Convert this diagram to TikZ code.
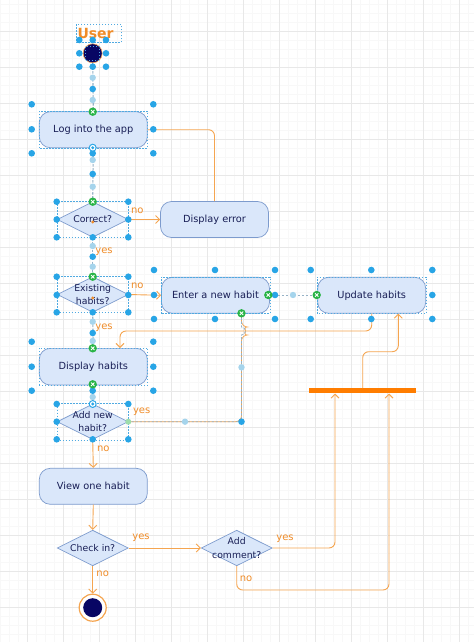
\documentclass[tikz,border=0pt]{standalone}
\usepackage{fontspec}
\newfontfamily\dv{DejaVu Sans}
\usetikzlibrary{shapes.geometric,arrows.meta,calc}
\definecolor{navy}{RGB}{8,6,100}
\definecolor{txtnavy}{RGB}{24,30,85}
\definecolor{boxfill}{RGB}{218,231,250}
\definecolor{boxline}{RGB}{125,155,205}
\definecolor{corange}{RGB}{245,165,80}
\definecolor{lorange}{RGB}{240,140,40}
\definecolor{barorange}{RGB}{255,125,0}
\definecolor{hblue}{RGB}{40,165,230}
\definecolor{hlight}{RGB}{165,212,236}
\definecolor{gxgreen}{RGB}{40,180,70}
\definecolor{selgray}{RGB}{150,178,198}
\definecolor{selblue}{RGB}{80,170,225}
\definecolor{gminor}{RGB}{248,248,248}
\definecolor{gmajor}{RGB}{232,232,232}
\begin{document}
\begin{tikzpicture}[x=1pt,y=-1pt,
  act/.style={draw=boxline, fill=boxfill, rounded corners=11pt, line width=0.7pt,
    minimum width=108pt, minimum height=36pt, inner sep=0pt,
    font=\dv\fontsize{9.8}{11.5}\selectfont, text=txtnavy},
  dec/.style={diamond, draw=boxline, fill=boxfill, line width=0.7pt,
    minimum width=71pt, minimum height=35.6pt, inner sep=0pt},
  dtxt/.style={font=\dv\fontsize{9.3}{13.5}\selectfont, text=txtnavy, align=center, inner sep=0pt},
  oc/.style={draw=corange, line width=0.9pt, rounded corners=6pt},
  oa/.style={-{Straight Barb[length=4pt,width=8pt]}},
  sel/.style={draw=selgray, line width=1.1pt, dash pattern=on 2.5pt off 1.5pt},
  selbox/.style={draw=selblue, line width=0.6pt, dash pattern=on 1.5pt off 1.5pt},
  lbl/.style={font=\dv\fontsize{10}{12}\selectfont, text=lorange, inner sep=0pt}]
\useasboundingbox (0,0) rectangle (474,642);
\fill[white] (0,0) rectangle (474,642);
\begin{scope}
\clip (0,0) rectangle (474,642);
\foreach \i in {0,...,54} \draw[gminor, line width=0.5pt] ({-8.3+9*\i},0) -- ({-8.3+9*\i},642);
\foreach \j in {0,...,71} \draw[gminor, line width=0.5pt] (0,{4+9*\j}) -- (474,{4+9*\j});
\foreach \i in {-1,...,13} \draw[gmajor, line width=0.7pt] ({27.7+36*\i},0) -- ({27.7+36*\i},642);
\foreach \j in {-1,...,17} \draw[gmajor, line width=0.7pt] (0,{31+36*\j}) -- (474,{31+36*\j});
\end{scope}

% nodes
\node[circle, fill=navy, draw=corange, line width=0.6pt, minimum size=19pt, inner sep=0pt] (start) at (92.7,53.3) {};
\node[act] (log) at (93.3,129.7) {Log into the app};
\node[act] (derr) at (214.5,219.5) {Display error};
\node[act] (ent) at (215.5,295.3) {Enter a new habit};
\node[act] (upd) at (371.7,295.3) {Update habits};
\node[act, minimum height=36.7pt] (disp) at (93.3,366.7) {Display habits};
\node[act] (view) at (93.3,486.3) {View one habit};
\node[dec] (cor) at (92.7,219.5) {};
\node[dec] (exh) at (92.7,294.5) {};
\node[dec] (adn) at (92.7,421.7) {};
\node[dec] (chk) at (92.7,548) {};
\node[dec] (adc) at (236.7,548) {};
\node[circle, draw=corange, line width=1.2pt, fill=white, minimum size=27pt, inner sep=0pt] (end) at (92.7,607.7) {};
\node[fill=barorange, minimum width=107.3pt, minimum height=5pt, inner sep=0pt] (bar) at (362.3,390.8) {};

% orange connectors
\draw[oc] (log.east) -| (derr.north);
\draw[oc,oa] (cor.east) -- (derr.west);
\draw[oc,oa] (exh.east) -- (ent.west);
\coordinate (u1) at (120,331);
\draw[oc,oa] (upd.south) |- (u1) -- (u1 |- disp.north);
\coordinate (e5) at (241.5,313.3);
\coordinate (e5a) at (241.5,327);
\coordinate (e6) at (241.5,421.7);
\draw[oc, line width=0.7pt] (e5) -- (e5a) arc(90:-90:4pt) -- (e6) -- (adn.east);
\draw[sel, line width=0.8pt] (e5) -- (e5a) arc(90:-90:4pt) -- (e6) -- (adn.east);
\draw[oc,oa] (adn.south) -- (view.north);
\draw[oc,oa] (view.south) -- (chk.north);
\draw[oc,oa] (chk.south) -- (end.north);
\draw[oc,oa] (chk.east) -- (adc.west);
\coordinate (bx1) at (335,0);
\coordinate (bx2) at (389,0);
\coordinate (bx3) at (362.7,0);
\coordinate (bx4) at (398.3,0);
\coordinate (yl) at (0,590);
\coordinate (yu) at (0,351.7);
\draw[oc,oa] (adc.east) -| (bx1 |- bar.south);
\draw[oc,oa] (adc.south) |- (bx2 |- yl) -- (bx2 |- bar.south);
\draw[oc,oa] (bx3 |- bar.north) |- (bx4 |- yu) -- (bx4 |- upd.south);

% selected connectors
\draw[sel] (start.south) -- (log.north);
\draw[sel] (log.south) -- (cor.north);
\draw[sel] (cor.south) -- (exh.north);
\draw[sel] (exh.south) -- (disp.north);
\draw[sel] (disp.south) -- (adn.north);
\draw[sel, line width=0.8pt] (ent.east) -- (upd.west);

% diamond texts
\node[dtxt] (cort) at (cor) {Correct?};
\node[dtxt] (exht) at (exh) {Existing\\habits?};
\node[dtxt] (adnt) at (adn) {Add new\\habit?};
\node[dtxt] (chkt) at (chk) {Check in?};
\node[dtxt] (adct) at (adc) {Add\\comment?};
\node[circle, fill=navy, minimum size=19pt, inner sep=0pt] (endin) at (end) {};

% labels
\node[font=\dv\bfseries\fontsize{14}{15}\selectfont, text=lorange, anchor=base west, inner sep=0pt] (user) at (77.3,39) {User};
\node[lbl] (l1) at (137.3,211) {no};
\node[lbl] (l2) at (104,251.5) {yes};
\node[lbl] (l3) at (137.3,286) {no};
\node[lbl] (l4) at (104,327.5) {yes};
\node[lbl] (l5) at (141.7,412) {yes};
\node[lbl] (l6) at (103.3,448.7) {no};
\node[lbl] (l7) at (141,537.7) {yes};
\node[lbl] (l8) at (102.7,574) {no};
\node[lbl] (l9) at (285,538.3) {yes};
\node[lbl] (l10) at (246,578.7) {no};

% selection boxes
\draw[selbox] (76,24.3) rectangle (121,42.3);
\draw[selbox] (start.south west) rectangle (start.north east);
\draw[selbox] (log.south west) rectangle (log.north east);
\draw[selbox] (disp.south west) rectangle (disp.north east);
\draw[selbox] (ent.south west) rectangle (ent.north east);
\draw[selbox] (upd.south west) rectangle (upd.north east);
\draw[selbox] (cor.west |- cor.north) rectangle (cor.east |- cor.south);
\draw[selbox] (exh.west |- exh.north) rectangle (exh.east |- exh.south);
\draw[selbox] (adn.west |- adn.north) rectangle (adn.east |- adn.south);

% small orange centre marks
\foreach \p in {{92.7,222},{92.7,298}} \fill[lorange] (\p) circle (1.6pt);

% light handles
\foreach \p in {{92.7,77.7},{92.7,100},{92.7,160},{92.7,186.7},{92.7,246},{92.7,266.7},{92.7,321.7},{92.7,341},{293,295},{241.5,367.3},{185,421.7},{92.7,397}}
  \fill[hlight] (\p) circle (3.2pt);
% blue handles
\foreach \p in {{79.3,40},{92.7,40},{106,40},{79.3,53.3},{106,53.3},{79.3,66.7},{92.7,66.7},{106,66.7},
  {92.7,89},
  {31.7,104.3},{153.3,104.3},{31.7,129.3},{153.3,129.3},{31.7,153.3},{92.7,153.3},{153.3,153.3},
  {92.7,174},
  {56.7,201.7},{128.3,201.7},{56.7,219.5},{128.3,219.5},{56.7,237.3},{92.7,237.3},{128.3,237.3},
  {92.7,256.7},
  {56.7,276.7},{128.3,276.7},{56.7,295},{128.3,295},{56.7,312.3},{92.7,312.3},{128.3,312.3},
  {92.7,333},
  {154,270},{215,270},{275,270},{154,295},{275,295},{154,319},{215,319},{275,319},
  {310.7,270},{371.3,270},{432.3,270},{432.3,295},{310.7,319},{371.3,319},{432.3,319},
  {31.7,341.7},{153.3,341.7},{31.7,366.7},{153.3,366.7},{31.7,390.7},{92.7,390.7},{153.3,390.7},
  {56.7,404},{128.3,404},{56.7,421.7},{56.7,439.3},{92.7,439.3},{128.3,439.3},
  {241.5,421.7}}
  \fill[hblue] (\p) circle (3.3pt);
\fill[gxgreen!45] (128.3,421.7) circle (3pt);
% ring handles
\foreach \p in {{92.7,147.7},{92.7,404}} {
  \fill[hblue] (\p) circle (4pt);
  \fill[white] (\p) circle (2.8pt);
  \fill[hblue] (\p) circle (1.6pt);
}
% green connection marks
\foreach \p in {{92.7,111.7},{92.7,201.7},{92.7,276.7},{92.7,348.3},{92.7,384.3},{268.3,295},{241.5,313.3},{316.7,295}} {
  \fill[gxgreen] (\p) circle (4.2pt);
  \draw[white, line width=0.9pt] (\p) ++(-1.7pt,-1.7pt) -- ++(3.4pt,3.4pt);
  \draw[white, line width=0.9pt] (\p) ++(-1.7pt,1.7pt) -- ++(3.4pt,-3.4pt);
}
\end{tikzpicture}
\end{document}
